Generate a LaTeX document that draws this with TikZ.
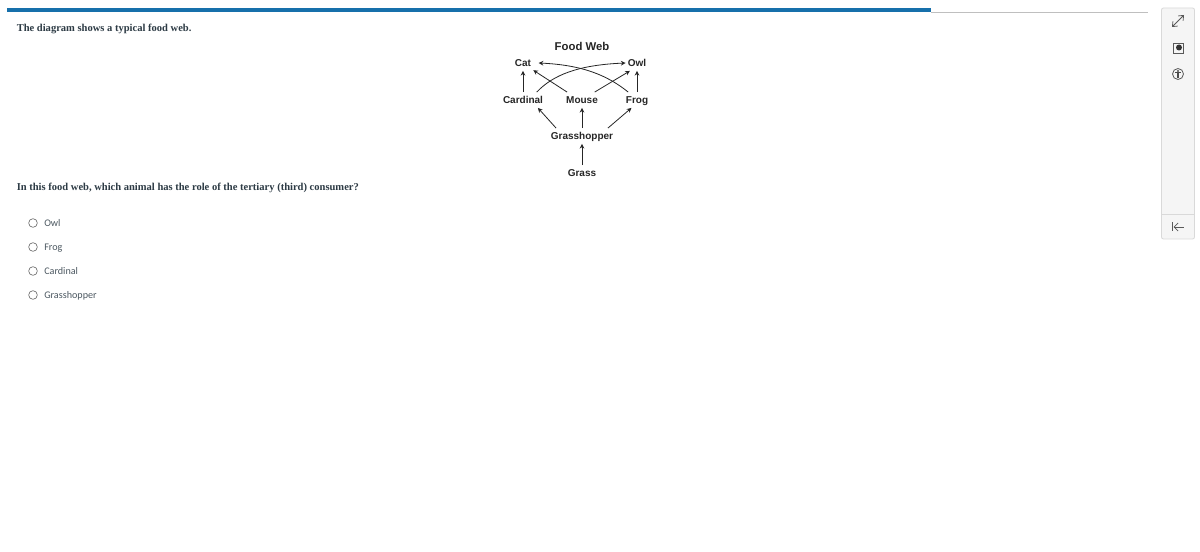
\documentclass[tikz,border=0pt]{standalone}
\usepackage{fontspec}
\setmainfont{Liberation Serif}
\newfontfamily\websans{Liberation Sans}
\newfontfamily\optsans{Carlito}
\usetikzlibrary{arrows.meta}
\definecolor{barblue}{HTML}{1770AB}
\definecolor{quiztext}{HTML}{2D3B45}
\tikzset{
  animal/.style={font=\websans\bfseries\fontsize{7.5}{9}\selectfont, text=black!85, inner sep=1.5pt, text height=7pt, text depth=1.5pt},
  feeds/.style={-{Stealth[length=3.5pt,width=3.5pt]}, black!85, line width=0.6pt},
  question/.style={anchor=west, font=\bfseries\fontsize{7.9}{10}\selectfont, text=quiztext, inner sep=0pt, text height=7.5pt, text depth=2pt},
  choice/.style={anchor=west, font=\optsans\fontsize{7.6}{9}\selectfont, text=quiztext!85, inner sep=0pt, text height=7pt, text depth=2pt},
  radio/.style={circle, draw=black!55, line width=0.5pt, minimum size=6.5pt, inner sep=0pt},
  toolicon/.style={draw=black!65, line width=0.6pt}
}
\begin{document}
\begin{tikzpicture}[x=0.75pt, y=-0.75pt]
\useasboundingbox (0, 0) rectangle (1200, 552);
\fill[white] (0, 0) rectangle (1200, 552);

% Progress bar
\draw[black!25, line width=0.5pt] (931, 12.5) -- (1148, 12.5);
\fill[barblue] (6.5, 8) rectangle (931, 12.5);

% Question text
\node[question] (intro) at (16.5, 28) {The diagram shows a typical food web.};
\node[question] (ask) at (16.5, 186.5) {In this food web, which animal has the role of the tertiary (third) consumer?};

% Food web
\node[animal, font=\websans\bfseries\fontsize{8.5}{10}\selectfont] (title) at (582, 47) {Food Web};
\node[animal] (cat) at (523, 63) {Cat};
\node[animal] (owl) at (637, 63) {Owl};
\node[animal] (cardinal) at (523, 100) {Cardinal};
\node[animal] (mouse) at (582, 100) {Mouse};
\node[animal] (frog) at (637, 100) {Frog};
\node[animal] (hopper) at (582, 136) {Grasshopper};
\node[animal] (grass) at (582, 173) {Grass};

\draw[feeds] (cardinal) -- (cat);
\draw[feeds] (frog) -- (owl);
\draw[feeds] (mouse.152) -- (cat.-35);
\draw[feeds] (mouse.32) -- (owl.-132);
\draw[feeds] (cardinal.30) .. controls (553, 75) and (578, 65) .. (owl.west);
\draw[feeds] (frog.138) .. controls (607, 75) and (582, 65) .. ([xshift=4pt]cat.east);
\draw[feeds] (hopper.163) -- (cardinal.-28);
\draw[feeds] (hopper) -- (mouse);
\draw[feeds] (hopper.17) -- (frog.-125);
\draw[feeds] (grass) -- (hopper);

% Answer choices
\node[radio] (r1) at (33, 223) {};
\node[choice] (c1) at (44, 223) {Owl};
\node[radio] (r2) at (33, 247) {};
\node[choice] (c2) at (44, 247) {Frog};
\node[radio] (r3) at (33, 271) {};
\node[choice] (c3) at (44, 271) {Cardinal};
\node[radio] (r4) at (33, 295) {};
\node[choice] (c4) at (44, 295) {Grasshopper};

% Side panel
\draw[black!15, fill=black!4, rounded corners=1.5pt, line width=0.6pt] (1161.5, 8) rectangle (1194.5, 239);
\draw[black!15, line width=0.6pt] (1161.5, 214.5) -- (1194.5, 214.5);
\draw[toolicon, {Straight Barb[length=3pt,width=5pt]}-{Straight Barb[length=3pt,width=5pt]}] (1172, 27) -- (1184, 15);
\draw[toolicon] (1173, 43) rectangle (1183, 53);
\fill[black!80] (1179, 47.5) circle (3);
\draw[toolicon] (1178, 74) circle (5.5);
\fill[black!70] (1178, 71) circle (1.2);
\draw[black!70, line width=0.9pt] (1175, 72.8) -- (1181, 72.8) (1178, 72.8) -- (1178, 78);
\draw[toolicon] (1172.5, 222.5) -- (1172.5, 231.5);
\draw[toolicon, {Straight Barb[length=3pt,width=6pt]}-] (1173.5, 227) -- (1184, 227);
\end{tikzpicture}
\end{document}
